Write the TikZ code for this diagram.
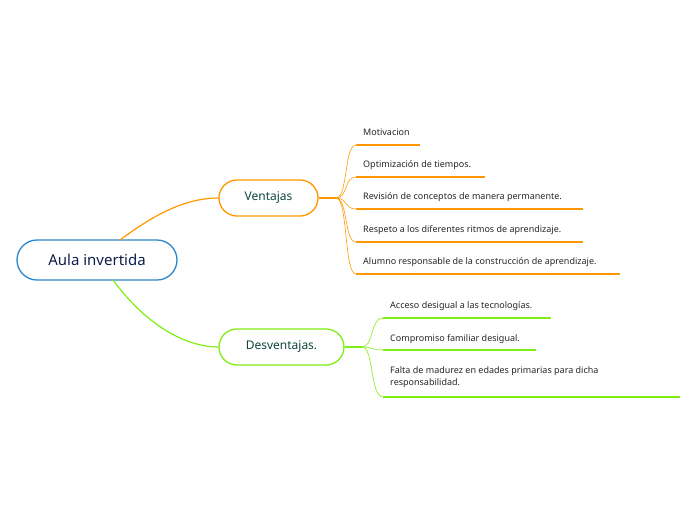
\documentclass[tikz,border=0pt]{standalone}
\usepackage{fontspec}
\setmainfont{Noto Sans}
\begin{document}
\begin{tikzpicture}[x=1pt,y=-1pt,
  leaf/.style={anchor=base west,font=\fontsize{9}{12}\selectfont,text=black!85,inner sep=0pt,align=left},
  ora/.style={draw={rgb,255:red,255;green,152;blue,0}},
  gre/.style={draw={rgb,255:red,128;green,238;blue,18}}]
\useasboundingbox (0,0) rectangle (696,520);
\node[draw={rgb,255:red,44;green,134;blue,202},line width=1.3pt,rounded corners=20pt,minimum width=160pt,minimum height=40pt,font=\fontsize{15}{18}\selectfont\bfseries,text={rgb,255:red,13;green,30;blue,75}] (root) at (97,260) {Aula invertida};
\node[ora,line width=1.3pt,rounded corners=18pt,minimum width=99pt,minimum height=36pt,font=\fontsize{12}{14}\selectfont\bfseries,text={rgb,255:red,14;green,70;blue,60}] (v) at (268.5,198) {Ventajas};
\node[gre,line width=1.3pt,rounded corners=18pt,minimum width=125pt,minimum height=36pt,font=\fontsize{12}{14}\selectfont\bfseries,text={rgb,255:red,14;green,70;blue,60}] (d) at (281.5,347) {Desventajas.};
\coordinate (r1) at (120,240); \coordinate (r2) at (113,280);
\draw[ora,line width=1.2pt] (r1) .. controls (160,210) and (190,198) .. (v.west);
\draw[gre,line width=1.2pt] (r2) .. controls (150,330) and (190,347) .. (d.west);
% Ventajas leaves
\coordinate (vf) at (336,198);
\draw[ora,line width=1.2pt] (v.east) -- (vf);
\foreach \y/\e/\t [count=\i] in {145/420/Motivacion,177/485/Optimización de tiempos.,209/583/Revisión de conceptos de manera permanente.,242/583/Respeto a los diferentes ritmos de aprendizaje.,274/620/Alumno responsable de la construcción de aprendizaje.}{
  \coordinate (vs\i) at (356,\y); \coordinate (ve\i) at (\e,\y);
  \draw[ora,line width=0.6pt] (vf) .. controls (348,198) and (344,\y) .. (vs\i);
  \draw[ora,line width=2pt] (vs\i) -- (ve\i);
  \node[leaf] (vt\i) at (363,\y-10) {\t};
}
% Desventajas leaves
\coordinate (df) at (362,347);
\draw[gre,line width=1.2pt] (d.east) -- (df);
\foreach \y/\e [count=\i] in {318/551,350/536,397/680}{
  \coordinate (ds\i) at (383,\y); \coordinate (de\i) at (\e,\y);
  \draw[gre,line width=0.6pt] (df) .. controls (374,347) and (370,\y) .. (ds\i);
  \draw[gre,line width=2pt] (ds\i) -- (de\i);
}
\node[leaf] (dt1) at (390,308) {Acceso desigual a las tecnologías.};
\node[leaf] (dt2) at (390,341) {Compromiso familiar desigual.};
\node[leaf,anchor=north west] (dt3) at (390,366) {Falta de madurez en edades primarias para dicha\\responsabilidad.};
\end{tikzpicture}
\end{document}
